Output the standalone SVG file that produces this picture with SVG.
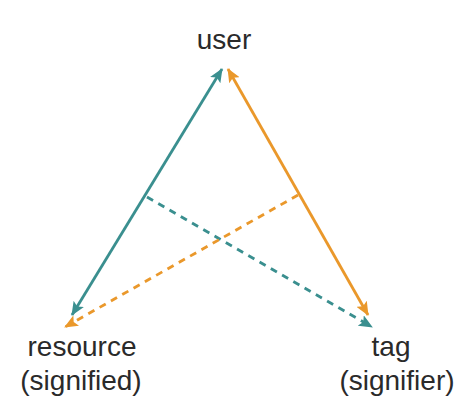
<svg xmlns="http://www.w3.org/2000/svg" width="474" height="414" viewBox="0 0 474 414">
<defs>
<marker id="aT" viewBox="0 0 14 12" refX="13" refY="6" markerWidth="14" markerHeight="12" markerUnits="userSpaceOnUse" orient="auto-start-reverse"><path d="M0,0 L14,6 L0,12 L3,6 Z" fill="#3a8f8f"/></marker>
<marker id="aO" viewBox="0 0 14 12" refX="13" refY="6" markerWidth="14" markerHeight="12" markerUnits="userSpaceOnUse" orient="auto-start-reverse"><path d="M0,0 L14,6 L0,12 L3,6 Z" fill="#ea982b"/></marker>
<style>
.t{stroke:#3a8f8f;stroke-width:2.8;fill:none}
.o{stroke:#ea982b;stroke-width:2.8;fill:none}
.d{stroke-dasharray:7 6}
text{font-family:"Liberation Sans",Arial,sans-serif;font-size:28px;fill:#2a2a2a;text-anchor:middle}
</style>
</defs>
<rect width="474" height="414" fill="#fff"/>
<g id="connectors">
<line class="t" x1="222" y1="69" x2="72" y2="315" marker-start="url(#aT)" marker-end="url(#aT)"/>
<line class="o" x1="228" y1="69" x2="368" y2="315" marker-start="url(#aO)" marker-end="url(#aO)"/>
<line class="t d" x1="147" y1="197" x2="372" y2="327" marker-end="url(#aT)"/>
<line class="o d" x1="298" y1="195" x2="65" y2="327" marker-end="url(#aO)"/>
</g>
<g id="user"><text x="224" y="49">user</text></g>
<g id="resource"><text x="82" y="356">resource</text><text x="81" y="390">(signified)</text></g>
<g id="tag"><text x="391" y="356">tag</text><text x="397" y="390">(signifier)</text></g>
</svg>
